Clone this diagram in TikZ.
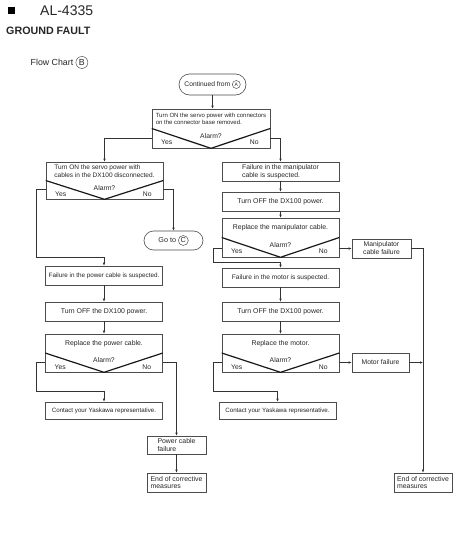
\documentclass[tikz,border=0pt]{standalone}
\usepackage{fontspec}
\setmainfont{Liberation Sans}
\usetikzlibrary{arrows.meta,calc,shapes.misc}
\newcommand\fs[2]{\fontsize{#1}{#2}\selectfont}
\newcommand\circled[2]{\tikz[baseline=(cl.base)]\node[circle,draw=black!80,line width=0.4pt,inner sep=0pt,minimum size=#1,text=black!85](cl){#2};}
\tikzset{
  box/.style={draw=black!70, line width=0.6pt, rectangle, inner sep=0pt, text=black!85, align=center},
  txt/.style={inner sep=0pt, text=black!85},
  vline/.style={line width=1.2pt, draw=black!90, line join=miter},
  conn/.style={draw=black!80, line width=0.5pt, -{Latex[length=3pt,width=2.4pt]}},
  lbl/.style={inner sep=0pt, font=\fs{6.8}{7}, text=black!85},
  wide/.style={box, minimum width=117, minimum height=19},
  small/.style={box, minimum width=59, minimum height=19},
  decbox/.style={box, minimum width=117, minimum height=38},
}
\begin{document}
\begin{tikzpicture}[x=1pt,y=-1pt]
\useasboundingbox (0,0) rectangle (474,536);
\fill[white] (0,0) rectangle (474,536);

% title
\node[fill=black, minimum size=7, inner sep=0pt] (sq) at (11,10) {};
\node[txt, anchor=west, font=\fs{14}{16}] (code) at (40,10.5) {AL-4335};
\node[txt, anchor=west, font=\bfseries\fs{10.7}{12}] (gf) at (6,31) {GROUND FAULT};
\node[txt, anchor=base west, font=\fs{8.8}{10}] (fc) at (30.5,65.5) {Flow Chart \circled{12pt}{B}};

% top
\node[box, rounded rectangle, minimum width=67, minimum height=21, font=\fs{6.7}{7}] (cont) at (212.5,84.5) {Continued from \circled{8pt}{\fs{5}{5}A}};

\node[decbox, minimum width=118, minimum height=39] (d1) at (211,128.5) {};
\node[txt, align=left, font=\fs{6}{6.7}] (d1t) at ($(d1.north)!0.5!(d1.center)$) {Turn ON the servo power with connectors\\on the connector base removed.};

% left column
\node[decbox, minimum height=37] (d2) at (104.5,180.5) {};
\node[txt, align=left, font=\fs{6.5}{8}] (d2t) at ($(d2.north)!0.5!(d2.center)$) {Turn ON the servo power with\\cables in the DX100 disconnected.};

\node[box, rounded rectangle, minimum width=59, minimum height=19, font=\fs{7.2}{8}] (goto) at (173.5,240.5) {Go to \circled{10pt}{C}};

\node[wide, font=\fs{6.3}{7}] (pc1) at (104,275.5) {Failure in the power cable is suspected.};
\node[wide, font=\fs{6.9}{7}] (off2) at (104,311.5) {Turn OFF the DX100 power.};
\node[decbox] (d4) at (104,353) {};
\node[txt, font=\fs{6.9}{7}] (d4t) at ($(d4.north)!0.5!(d4.center)$) {Replace the power cable.};
\node[wide, minimum height=17, font=\fs{6.2}{7}] (ct1) at (104,410.5) {Contact your Yaskawa representative.};
\node[small, minimum height=18, align=left, font=\fs{6.9}{7.2}] (pcf) at (176.5,445) {Power cable\\failure};
\node[small, align=left, font=\fs{6.9}{7.2}] (end1) at (176.5,482.5) {End of corrective\\measures};

% right column
\node[wide, align=left, font=\fs{6.8}{8}] (mc1) at (280.5,171.5) {Failure in the manipulator\\cable is suspected.};
\node[wide, font=\fs{6.9}{7}] (off1) at (280.5,201.5) {Turn OFF the DX100 power.};
\node[decbox, minimum height=39] (d3) at (280.5,237.5) {};
\node[txt, font=\fs{6.9}{7}] (d3t) at ($(d3.north)!0.5!(d3.center)$) {Replace the manipulator cable.};
\node[small, font=\fs{6.8}{8}] (mcf) at (381.5,248.5) {Manipulator\\cable failure};

\node[wide, font=\fs{6.6}{7}] (mo1) at (280.5,277.5) {Failure in the motor is suspected.};
\node[wide, font=\fs{6.9}{7}] (off3) at (280.5,311.5) {Turn OFF the DX100 power.};
\node[decbox] (d5) at (280.5,353) {};
\node[txt, font=\fs{6.9}{7}] (d5t) at ($(d5.north)!0.5!(d5.center)$) {Replace the motor.};
\node[small, minimum width=57, font=\fs{6.8}{7}] (mf) at (380.5,362.5) {Motor failure};
\node[wide, minimum height=17, font=\fs{6.2}{7}] (ct2) at (277.5,410.5) {Contact your Yaskawa representative.};
\node[small, minimum width=58, align=left, font=\fs{6.9}{7.2}] (end2) at (423,482.5) {End of corrective\\measures};

% decision V shapes and labels
\foreach \d in {d1,d2,d3,d4,d5}{
  \draw[vline] (\d.west) -- (\d.south) -- (\d.east);
  \node[lbl] (\d a) at ($(\d.center)+(0,7.5)$) {Alarm?};
  \node[lbl] (\d y) at ($(\d.west)+(15,14)$) {Yes};
  \node[lbl] (\d n) at ($(\d.east)+(-16,14)$) {No};
}

% connectors
\draw[conn] (cont.south) -- (cont.south |- d1.north);
\draw[conn] ($(d1.west)+(0,9.5)$) -| (d2.north);
\draw[conn] ($(d1.east)+(0,9.5)$) -| (mc1.north);

\draw[conn] ($(d2.west)+(0,8.5)$) -- ++(-9,0) |- ($(pc1.north)+(0,-8)$) -- (pc1.north);
\draw[conn] ($(d2.east)+(0,8.5)$) -| (goto.north);
\draw[conn] (pc1.south) -- (off2.north);
\draw[conn] (off2.south) -- (d4.north);
\draw[conn] ($(d4.west)+(0,9)$) -- ++(-9,0) |- ($(ct1.north)+(0,-10)$) -- (ct1.north);
\draw[conn] ($(d4.east)+(0,9)$) -| (pcf.north);
\draw[conn] (pcf.south) -- (end1.north);

\draw[conn] (mc1.south) -- (off1.north);
\draw[conn] (off1.south) -- (d3.north);
\draw[conn] (mcf.west -| d3.east) -- (mcf.west);
\draw[conn] (mcf.east) -| (end2.north);
\draw[conn] ($(d3.west)+(0,10.5)$) -- ++(-8,0) |- ($(mo1.north)+(0,-5)$) -- (mo1.north);
\draw[conn] (mo1.south) -- (off3.north);
\draw[conn] (off3.south) -- (d5.north);
\draw[conn] (mf.west -| d5.east) -- (mf.west);
\draw[conn] (mf.east) -- (mf.east -| end2.north);
\draw[conn] ($(d5.west)+(0,9)$) -- ++(-8,0) |- ($(ct2.north)+(0,-10)$) -- (ct2.north);
\end{tikzpicture}
\end{document}
